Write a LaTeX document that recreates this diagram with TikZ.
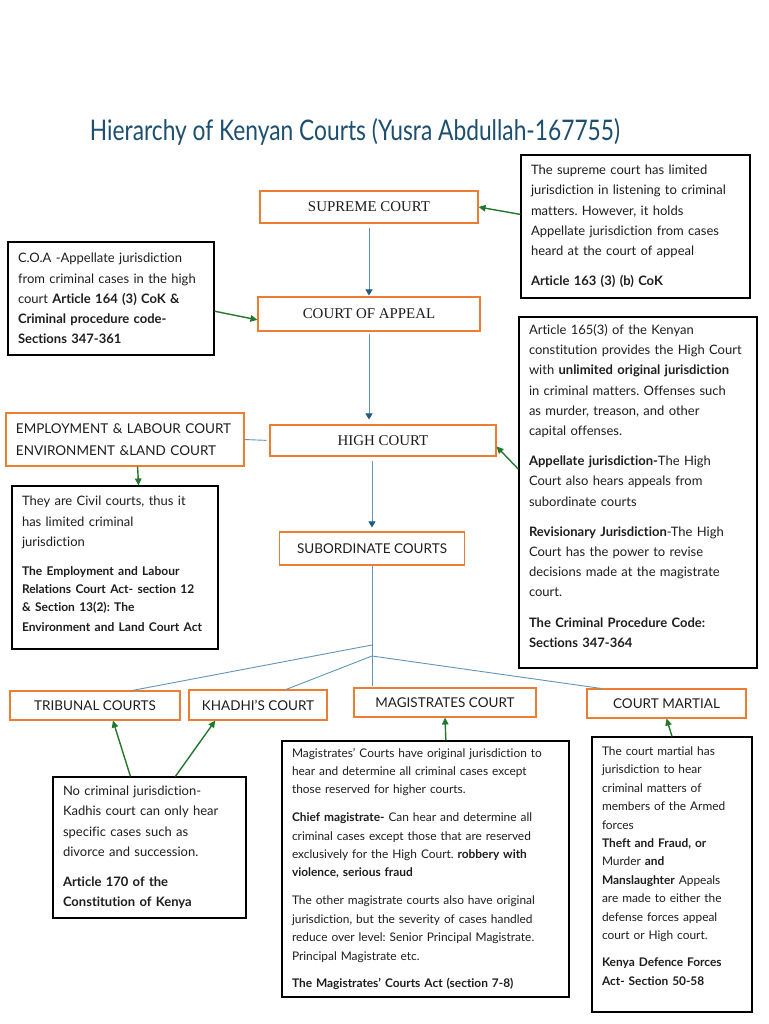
\documentclass[tikz,border=0pt]{standalone}
\usepackage{fontspec}
\usepackage{graphicx}
\setmainfont{Lato}[Ligatures={NoCommon}]
\newfontfamily\courtserif{Liberation Serif}
\usetikzlibrary{arrows.meta}
\definecolor{orng}{RGB}{237,125,49}
\definecolor{conn}{RGB}{95,150,185}
\definecolor{connhead}{RGB}{30,90,130}
\definecolor{grn}{RGB}{35,120,45}
\definecolor{ttl}{RGB}{28,79,112}
\definecolor{txt}{RGB}{30,30,30}
\frenchspacing
\begin{document}
\begin{tikzpicture}[x=1pt,y=-1pt,
  courtbox/.style={draw=orng, line width=1.1pt, inner sep=0pt, text=txt},
  serifcourt/.style={courtbox, font=\courtserif\fontsize{14.9}{16}\selectfont},
  sanscourt/.style={courtbox, font=\fontsize{13.5}{22}\selectfont},
  infobox/.style={draw=black, line width=1.1pt, inner xsep=10pt, inner ysep=0pt, align=left, text=txt, font=\fontsize{13}{20.2}\selectfont},
  smallinfo/.style={infobox, font=\fontsize{11.9}{18.4}\selectfont},
  link/.style={draw=conn, line width=0.9pt},
  blarrow/.style={link, -{Triangle[length=6pt,width=7pt,color=connhead]}},
  garrow/.style={draw=grn, line width=1.4pt, -{Triangle[length=7pt,width=6.5pt]}}
]
\fill[white] (0,0) rectangle (768,1024);
\useasboundingbox (0,0) rectangle (768,1024);

% title
\node[text=ttl, inner sep=0pt] (title) at (355,132) {\resizebox{530pt}{22pt}{Hierarchy of Kenyan Courts (Yusra Abdullah-167755)}};

% court boxes
\node[serifcourt, minimum width=218pt, minimum height=32pt] (sup) at (369,207) {SUPREME COURT};
\node[serifcourt, minimum width=222pt, minimum height=34pt] (coa) at (369,314) {COURT OF APPEAL};
\node[serifcourt, minimum width=226pt, minimum height=31pt] (hc) at (383,440.5) {HIGH COURT};
\node[sanscourt, minimum width=238pt, minimum height=53pt, text width=218pt, align=left, inner xsep=10pt] (emp) at (125,439.5) {EMPLOYMENT \& LABOUR COURT\\ENVIRONMENT \&LAND COURT};
\node[sanscourt, minimum width=185pt, minimum height=33pt] (sub) at (372,548.5) {SUBORDINATE COURTS};
\node[sanscourt, minimum width=170pt, minimum height=29pt] (trib) at (95,705.5) {TRIBUNAL COURTS};
\node[sanscourt, minimum width=138pt, minimum height=30pt] (khadhi) at (258,705) {KHADHI’S COURT};
\node[sanscourt, minimum width=182pt, minimum height=29pt] (mag) at (445,702.5) {MAGISTRATES COURT};
\node[sanscourt, minimum width=159pt, minimum height=29pt] (martial) at (666.5,703.5) {COURT MARTIAL};

% info boxes
\node[infobox, minimum width=229pt, minimum height=143pt, text width=209pt] (supinfo) at (635.5,226.5) {The supreme court has limited\\ jurisdiction in listening to criminal\\ matters. However, it holds\\ Appellate jurisdiction from cases\\ heard at the court of appeal\\[10pt] \textbf{Article 163 (3) (b) CoK}};

\node[infobox, minimum width=206pt, minimum height=113pt, text width=186pt] (coainfo) at (111,298.5) {C.O.A -Appellate jurisdiction\\ from criminal cases in the high\\ court \textbf{Article 164 (3) CoK \&}\\ \textbf{Criminal procedure code-}\\ \textbf{Sections 347-361}};

\node[infobox, minimum width=238pt, minimum height=351pt, text width=218pt] (hcinfo) at (638,492.5) {Article 165(3) of the Kenyan\\ constitution provides the High Court\\ with \textbf{unlimited original jurisdiction}\\ in criminal matters. Offenses such\\ as murder, treason, and other\\ capital offenses.\\[10pt] \textbf{Appellate jurisdiction-}The High\\ Court also hears appeals from\\ subordinate courts\\[10pt] \textbf{Revisionary Jurisdiction}-The High\\ Court has the power to revise\\ decisions made at the magistrate\\ court.\\[10pt] \textbf{The Criminal Procedure Code:}\\ \textbf{Sections 347-364}\\[-7pt]\mbox{}};

\node[infobox, minimum width=206pt, minimum height=163pt, text width=186pt] (empinfo) at (115,567.5) {They are Civil courts, thus it\\ has limited criminal\\ jurisdiction\\[11pt] {\fontsize{12}{18}\selectfont\bfseries The Employment and Labour\\ Relations Court Act- section 12\\ \& Section 13(2): The\\ Environment and Land Court Act}\\[-13pt]\mbox{}};

\node[infobox, minimum width=193pt, minimum height=141pt, text width=173pt] (kadhiinfo) at (149.5,847.5) {No criminal jurisdiction-\\ Kadhis court can only hear\\ specific cases such as\\ divorce and succession.\\[10pt] \textbf{Article 170 of the}\\ \textbf{Constitution of Kenya}};

\node[smallinfo, minimum width=287pt, minimum height=256pt, text width=267pt] (maginfo) at (425.5,869) {Magistrates’ Courts have original jurisdiction to\\ hear and determine all criminal cases except\\ those reserved for higher courts.\\[9.5pt] \textbf{Chief magistrate-} Can hear and determine all\\ criminal cases except those that are reserved\\ exclusively for the High Court. \textbf{robbery with}\\ \textbf{violence, serious fraud}\\[9.5pt] The other magistrate courts also have original\\ jurisdiction, but the severity of cases handled\\ reduce over level: Senior Principal Magistrate.\\ Principal Magistrate etc.\\[9.5pt] \textbf{The Magistrates’ Courts Act (section 7-8)}};

\node[smallinfo, minimum width=160pt, minimum height=275pt, text width=140pt] (martialinfo) at (672,874.5) {The court martial has\\ jurisdiction to hear\\ criminal matters of\\ members of the Armed\\ forces\\ \textbf{Theft and Fraud, or}\\ Murder \textbf{and}\\ \textbf{Manslaughter} Appeals\\ are made to either the\\ defense forces appeal\\ court or High court.\\[9pt] \textbf{Kenya Defence Forces}\\ \textbf{Act- Section 50-58}\\[-1.5pt]\mbox{}};

% hierarchy connectors
\draw[blarrow, shorten <=4pt, shorten >=1pt] (sup.south) -- (sup.south |- coa.north);
\draw[blarrow, shorten <=2pt, shorten >=5pt] (coa.south) -- (coa.south |- hc.north);
\draw[blarrow, shorten <=4pt, shorten >=4pt] (hc.south -| sub.north) -- (sub.north);
\draw[link, shorten >=3pt] (emp.east) -- (hc.west);

\coordinate (j1) at (372,645);
\coordinate (j2) at (372,656);
\coordinate (jend) at (372,686);
\draw[link] (sub.south) -- (jend);
\draw[link] (j1) -- (trib.22.5);
\draw[link] (j2) -- (khadhi.29);
\draw[link] (j2) -- (martial.167);

% green arrows
\draw[garrow] (supinfo.174) -- (sup.east);
\draw[garrow] (coainfo.-7.5) -- (coa.183);
\draw[garrow] (hcinfo.169.3) -- (hc.-3);
\draw[garrow] (emp.-65.6) -- (empinfo.74.9);
\draw[garrow] (kadhiinfo.105.5) -- (trib.-40.5);
\draw[garrow] (kadhiinfo.70.1) -- (khadhi.200.6);
\draw[garrow] (maginfo.81.3) -- (mag.south);
\draw[garrow] (martialinfo.north) -- (martial.south);
\end{tikzpicture}
\end{document}
